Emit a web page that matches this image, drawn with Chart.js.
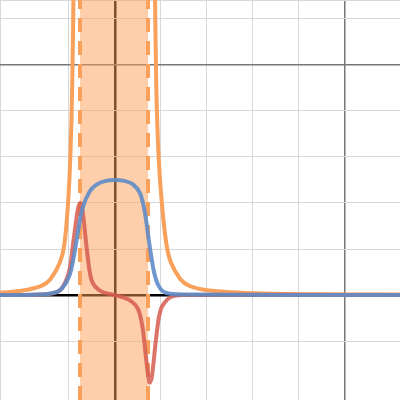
<!DOCTYPE html>
<html><head><meta charset="utf-8">
<script src="https://cdn.jsdelivr.net/npm/chart.js@4"></script>
<style>html,body{margin:0;padding:0;background:#fff}#w{width:400px;height:400px}</style>
</head><body><div id="w"><canvas id="c"></canvas></div>
<script>
const orangeCurve=[[-2.5,0.05],[-2.0,0.1],[-1.6,0.2],[-1.4,0.35],[-1.2,0.7],[-1.1,1.1],[-1.02,2.0],[-0.97,3],[-0.93,4.5],[-0.9,6.6],[null,null],[0.87,6.6],[0.9,4.5],[0.95,3],[1.02,2],[1.12,1.1],[1.22,0.7],[1.42,0.35],[1.62,0.2],[2.05,0.1],[3,0.04],[4,0.02],[6.2,0.01]];
const blueCurve=[[-2.5,0],[-1.5,0.02],[-1.2,0.1],[-1.0,0.4],[-0.9,0.8],[-0.8,1.4],[-0.7,1.9],[-0.55,2.25],[-0.4,2.4],[-0.2,2.48],[0,2.5],[0.2,2.48],[0.4,2.4],[0.55,2.2],[0.65,1.8],[0.75,1.1],[0.85,0.5],[0.95,0.2],[1.1,0.05],[1.5,0.01],[6.2,0]];
const redCurve=[[-2.5,0],[-1.5,0.02],[-1.2,0.1],[-1.0,0.5],[-0.9,1.2],[-0.8,1.9],[-0.75,2.0],[-0.7,1.8],[-0.6,0.9],[-0.5,0.3],[-0.3,0.08],[0,0],[0.3,-0.1],[0.5,-0.3],[0.6,-0.7],[0.68,-1.4],[0.75,-1.9],[0.8,-1.8],[0.9,-0.9],[1.0,-0.3],[1.2,-0.05],[1.5,0],[6.2,0]];
const bandLeft=-0.76, bandRight=0.72;
const xMin=-2.5,xMax=6.2,yMin=-2.28,yMax=6.41;
const pts=a=>a.map(p=>p[0]===null?{x:null,y:null}:{x:p[0],y:p[1]});
const gridColor=c=>{const v=c.tick&&c.tick.value;return v===0?'#000':(Math.abs(v)%5===0?'#777':'#d8d8d8');};
const gridWidth=c=>{const v=c.tick&&c.tick.value;return v===0?2.5:(Math.abs(v)%5===0?1.5:1);};
new Chart(document.getElementById('c'),{type:'scatter',data:{datasets:[
{data:pts(blueCurve),showLine:true,pointRadius:0,borderWidth:4,borderColor:'rgba(95,140,200,0.9)',tension:0.3},
{data:pts(redCurve),showLine:true,pointRadius:0,borderWidth:4,borderColor:'rgba(214,92,80,0.85)',tension:0.3},
{data:pts(orangeCurve),showLine:true,pointRadius:0,borderWidth:4,borderColor:'#f9a05a',spanGaps:false,tension:0.3},
{data:[{x:bandLeft,y:yMin-1},{x:bandLeft,y:yMax+1}],showLine:true,pointRadius:0,borderWidth:4,borderDash:[14,9],borderColor:'#f9a05a'},
{data:[{x:bandRight,y:yMin-1},{x:bandRight,y:yMax+1}],showLine:true,pointRadius:0,borderWidth:4,borderDash:[14,9],borderColor:'#f9a05a'},
{data:[{x:bandLeft,y:yMax+1},{x:bandRight,y:yMax+1}],showLine:true,pointRadius:0,borderWidth:0,fill:{value:yMin-1},backgroundColor:'rgba(253,160,85,0.5)'}
]},options:{animation:false,responsive:true,maintainAspectRatio:false,layout:{padding:0},
plugins:{legend:{display:false},tooltip:{enabled:false}},
scales:{x:{type:'linear',min:xMin,max:xMax,ticks:{display:false,stepSize:1},border:{display:false},grid:{color:gridColor,lineWidth:gridWidth,drawTicks:false}},
y:{type:'linear',min:yMin,max:yMax,ticks:{display:false,stepSize:1},border:{display:false},grid:{color:gridColor,lineWidth:gridWidth,drawTicks:false}}}}});
</script></body></html>
